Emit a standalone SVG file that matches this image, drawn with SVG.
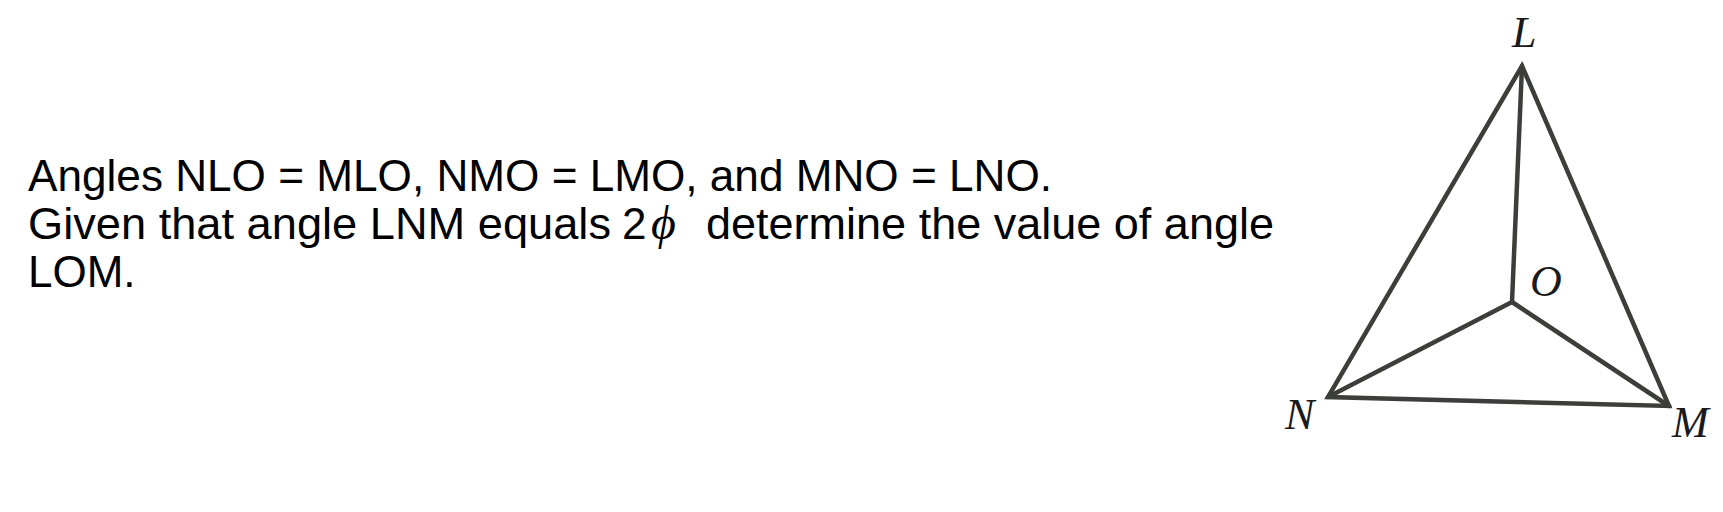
<svg xmlns="http://www.w3.org/2000/svg" width="1723" height="512" viewBox="0 0 1723 512">
<style>
.t{font-family:"Liberation Sans",Arial,sans-serif;font-size:44px;fill:#000}
.lab{font-family:"Liberation Serif","Times New Roman",serif;font-style:italic;font-size:44px;fill:#1a1a1a}
.phi{font-family:"Liberation Serif","DejaVu Serif",serif;font-style:italic;font-size:48px}
.e{fill:none;stroke:#3b3e39;stroke-width:4.5;stroke-linejoin:miter;stroke-linecap:round}
</style>
<rect width="1723" height="512" fill="#fff"/>
<g id="text">
<text class="t" x="28" y="191" textLength="1024" lengthAdjust="spacingAndGlyphs">Angles NLO = MLO, NMO = LMO, and MNO = LNO.</text>
<text class="t" y="239"><tspan x="28" textLength="583" lengthAdjust="spacingAndGlyphs">Given that angle LNM equals</tspan><tspan x="622">2</tspan><tspan x="651" class="phi">ϕ</tspan><tspan x="706" textLength="568" lengthAdjust="spacingAndGlyphs">determine the value of angle</tspan></text>
<text class="t" x="28" y="287">LOM.</text>
</g>
<g id="connectors">
<polygon class="e" points="1522,66 1669,406 1328,397"/>
<line class="e" x1="1522" y1="66" x2="1512" y2="302"/>
<line class="e" x1="1328" y1="397" x2="1512" y2="302"/>
<line class="e" x1="1669" y1="406" x2="1512" y2="302"/>
</g>
<g id="node-L"><text class="lab" x="1512" y="47">L</text></g>
<g id="node-O"><text class="lab" x="1530" y="296">O</text></g>
<g id="node-N"><text class="lab" x="1285" y="429">N</text></g>
<g id="node-M"><text class="lab" x="1672" y="437">M</text></g>
</svg>
